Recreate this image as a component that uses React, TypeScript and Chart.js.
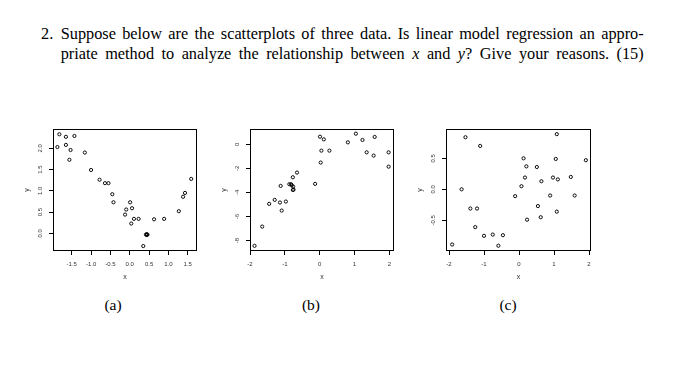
import React, { useEffect, useRef } from 'react';
import { Chart, registerables } from 'chart.js';
Chart.register(...registerables);

// ---------- data (a) ----------
const xA = [-1.82, -1.65, -1.43, -1.87, -1.65, -1.53, -1.56, -1.16, -1.0, -0.78, -0.64, -0.55, -0.45, -0.42, 0.01, -0.09, 0.06, -0.12, 0.11, 0.23, 0.04, 0.42, 0.44, 0.46, 0.44, 0.35, 0.63, 0.89, 1.27, 1.38, 1.43, 1.59];
const yA = [2.33, 2.27, 2.29, 2.03, 2.08, 1.96, 1.73, 1.9, 1.49, 1.26, 1.18, 1.18, 0.92, 0.73, 0.73, 0.56, 0.59, 0.44, 0.34, 0.34, 0.23, -0.03, -0.02, -0.03, -0.04, -0.3, 0.33, 0.34, 0.52, 0.86, 0.95, 1.28];
// ---------- data (b) ----------
const xB = [-1.87, -1.65, -1.45, -1.29, -1.14, -0.97, -1.09, -1.12, -0.87, -0.82, -0.8, -0.76, -0.75, -0.77, -0.77, -0.65, -0.13, 0.01, 0.12, 0.05, 0.28, 0.03, 0.81, 1.04, 1.23, 1.35, 1.58, 1.55, 1.98, 1.98];
const yB = [-8.44, -6.84, -4.95, -4.62, -4.84, -4.76, -5.51, -3.46, -3.32, -3.32, -3.41, -3.52, -3.77, -3.8, -2.74, -2.35, -3.29, 0.63, 0.41, -0.53, -0.53, -1.52, 0.16, 0.88, 0.36, -0.67, 0.61, -0.94, -0.67, -1.86];
// ---------- data (c) ----------
const xC = [-1.53, -1.11, -1.64, -1.39, -1.2, -1.25, -1.0, -0.75, -0.46, -0.59, -1.91, -0.11, 0.07, 0.13, 0.21, 0.17, 0.51, 0.64, 0.54, 0.62, 0.23, 0.89, 0.97, 1.11, 1.05, 1.08, 1.08, 1.48, 1.59, 1.91];
const yC = [0.84, 0.7, 0.0, -0.31, -0.31, -0.61, -0.75, -0.73, -0.74, -0.91, -0.89, -0.11, 0.05, 0.5, 0.37, 0.19, 0.36, 0.13, -0.27, -0.45, -0.49, -0.1, 0.19, 0.16, 0.49, 0.89, -0.36, 0.2, -0.1, 0.47];

// ---------- ticks ----------
const xTicksA = [-1.5, -1, -0.5, 0, 0.5, 1, 1.5];
const xTickLabelsA = ['-1.5', '-1.0', '-0.5', '0.0', '0.5', '1.0', '1.5'];
const yTicksA = [0, 0.5, 1, 1.5, 2];
const yTickLabelsA = ['0.0', '0.5', '1.0', '1.5', '2.0'];
const xTicksB = [-2, -1, 0, 1, 2];
const xTickLabelsB = ['-2', '-1', '0', '1', '2'];
const yTicksB = [-8, -6, -4, -2, 0];
const yTickLabelsB = ['-8', '-6', '-4', '-2', '0'];
const xTicksC = [-2, -1, 0, 1, 2];
const xTickLabelsC = ['-2', '-1', '0', '1', '2'];
const yTicksC = [-0.5, 0, 0.5];
const yTickLabelsC = ['-0.5', '0.0', '0.5'];

// ---------- axis limits ----------
const limA = [-1.984, 1.74, -0.416, 2.454];
const limB = [-2.0, 2.135, -8.87, 1.27];
const limC = [-2.086, 2.057, -0.995, 0.973];

const AX_W = 40;
const AX_H = 40;
const PAD_T = 10;
const PAD_R = 10;
const TICK_FONT = "'Liberation Sans', Arial, sans-serif";
const TEXT_COLOR = '#333';

const rStylePlugin = {
  id: 'rstyle',
  afterDraw(chart: any) {
    const { ctx, chartArea } = chart;
    const { left, top, right, bottom } = chartArea;
    ctx.save();
    ctx.strokeStyle = '#000';
    ctx.lineWidth = 1;
    ctx.strokeRect(Math.round(left) + 0.5, Math.round(top) + 0.5, Math.round(right - left) - 1, Math.round(bottom - top) - 1);
    const ys = chart.scales.y;
    ctx.fillStyle = TEXT_COLOR;
    ctx.font = `6px ${TICK_FONT}`;
    ctx.textAlign = 'center';
    ctx.textBaseline = 'middle';
    ys.ticks.forEach((t: any) => {
      const py = ys.getPixelForValue(t.value);
      ctx.save();
      ctx.translate(left - 12.3, py);
      ctx.rotate(-Math.PI / 2);
      ctx.fillText(String(t.label), 0, 0);
      ctx.restore();
    });
    ctx.restore();
  },
};

type PlotProps = {
  xs: number[]; ys: number[];
  xTicks: number[]; xLabels: string[];
  yTicks: number[]; yLabels: string[];
  lim: number[]; left: number; top: number; w: number; h: number;
};

function RPlot({ xs, ys, xTicks, xLabels, yTicks, yLabels, lim, left, top, w, h }: PlotProps) {
  const ref = useRef<HTMLCanvasElement>(null);
  const cw = AX_W + w + PAD_R;
  const ch = PAD_T + h + AX_H;
  useEffect(() => {
    const chart = new Chart(ref.current as HTMLCanvasElement, {
      type: 'scatter',
      data: {
        datasets: [
          {
            data: xs.map((x, i) => ({ x, y: ys[i] })),
            pointRadius: 1.6,
            pointHoverRadius: 1.6,
            pointBorderWidth: 0.95,
            borderColor: '#000',
            backgroundColor: 'rgba(0,0,0,0)',
          },
        ],
      },
      options: {
        responsive: false,
        animation: false,
        devicePixelRatio: 1,
        events: [],
        layout: { padding: { left: 0, top: PAD_T, right: PAD_R, bottom: 0 } },
        plugins: { legend: { display: false }, tooltip: { enabled: false } },
        scales: {
          x: {
            type: 'linear',
            position: 'bottom',
            min: lim[0],
            max: lim[1],
            afterBuildTicks: (s: any) => { s.ticks = xTicks.map((v) => ({ value: v })); },
            afterFit: (s: any) => { s.height = AX_H; },
            ticks: {
              callback: (v: any) => xLabels[xTicks.indexOf(Number(v))],
              font: { family: TICK_FONT, size: 6 },
              color: TEXT_COLOR,
              padding: 5.4,
              maxRotation: 0,
              minRotation: 0,
              autoSkip: false,
            },
            grid: { display: true, drawOnChartArea: false, drawTicks: true, tickLength: 4, color: '#000', lineWidth: 1 },
            border: { display: false },
            title: { display: true, text: 'x', font: { family: TICK_FONT, size: 7 }, color: TEXT_COLOR, padding: { top: 0, bottom: 9.8 } },
          },
          y: {
            type: 'linear',
            position: 'left',
            min: lim[2],
            max: lim[3],
            afterBuildTicks: (s: any) => { s.ticks = yTicks.map((v) => ({ value: v })); },
            afterFit: (s: any) => { s.width = AX_W; },
            ticks: {
              display: false,
              callback: (v: any) => yLabels[yTicks.indexOf(Number(v))],
              font: { family: TICK_FONT, size: 6 },
            },
            grid: { display: true, drawOnChartArea: false, drawTicks: true, tickLength: 4, color: '#000', lineWidth: 1 },
            border: { display: false },
            title: { display: true, text: 'y', font: { family: TICK_FONT, size: 7 }, color: TEXT_COLOR, padding: { top: 9.8, bottom: 0 } },
          },
        },
      },
      plugins: [rStylePlugin],
    } as any);
    return () => chart.destroy();
  }, []);
  return (
    <canvas
      ref={ref}
      width={cw}
      height={ch}
      style={{ position: 'absolute', left: left - AX_W, top: top - PAD_T, width: cw, height: ch }}
    />
  );
}

const serif = "'Liberation Serif', 'Times New Roman', serif";
const HFS = 16.3;

function Caption({ cx, text }: { cx: number; text: string }) {
  return (
    <div style={{ position: 'absolute', left: cx - 30, width: 60, top: 296.5, textAlign: 'center', fontFamily: serif, fontSize: 15.5, lineHeight: '15.5px', color: '#000' }}>
      {text}
    </div>
  );
}

export default function App() {
  const lineStyle: React.CSSProperties = {
    position: 'absolute',
    left: 60.7,
    width: 583,
    fontFamily: serif,
    fontSize: HFS,
    lineHeight: `${HFS}px`,
    textAlign: 'justify',
    textAlignLast: 'justify' as any,
    color: '#000',
  };
  return (
    <div style={{ position: 'fixed', left: 0, top: 0, width: 675, height: 383, background: '#fff', overflow: 'hidden' }}>
      <div style={{ position: 'absolute', left: 41, top: 25.5, fontFamily: serif, fontSize: HFS, lineHeight: `${HFS}px` }}>2.</div>
      <div style={{ ...lineStyle, top: 25.5 }}>
        Suppose below are the scatterplots of three data. Is linear model regression an appro-
      </div>
      <div style={{ ...lineStyle, top: 45.8 }}>
        priate method to analyze the relationship between <i>x</i> and <i>y</i>? Give your reasons. (15)
      </div>
      <RPlot xs={xA} ys={yA} xTicks={xTicksA} xLabels={xTickLabelsA} yTicks={yTicksA} yLabels={yTickLabelsA} lim={limA} left={53} top={129} w={144} h={122} />
      <RPlot xs={xB} ys={yB} xTicks={xTicksB} xLabels={xTickLabelsB} yTicks={yTicksB} yLabels={yTickLabelsB} lim={limB} left={250} top={129} w={144} h={122} />
      <RPlot xs={xC} ys={yC} xTicks={xTicksC} xLabels={xTickLabelsC} yTicks={yTicksC} yLabels={yTickLabelsC} lim={limC} left={446} top={129} w={145} h={122} />
      <Caption cx={113} text="(a)" />
      <Caption cx={311} text="(b)" />
      <Caption cx={508} text="(c)" />
    </div>
  );
}
